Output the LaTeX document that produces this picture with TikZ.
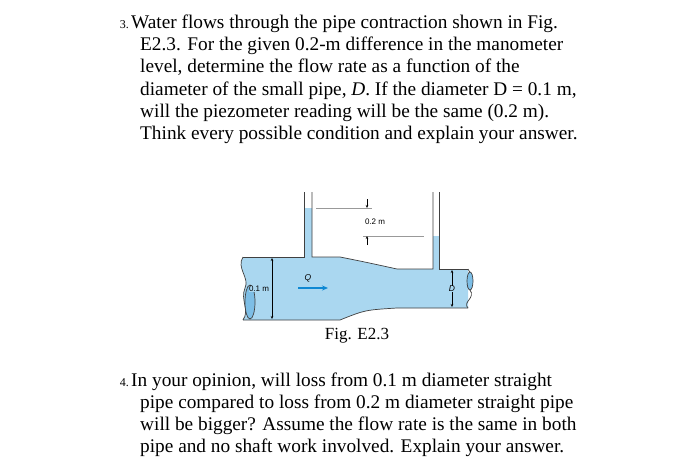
\documentclass[tikz,border=0pt]{standalone}
\usepackage{fontspec}
\setmainfont{Liberation Serif}
\newfontfamily\figsans{Liberation Sans}
\usetikzlibrary{arrows.meta}
\begin{document}
\begin{tikzpicture}[x=1pt,y=-1pt,
  txt/.style={anchor=base west,inner sep=0,font=\fontsize{19.3}{22}\selectfont},
  num/.style={anchor=base east,inner sep=0,font=\fontsize{12}{13}\selectfont},
  lbl/.style={inner sep=0.5pt,font=\figsans\fontsize{8}{9}\selectfont},
  dim/.style={-{Stealth[length=3pt,width=2.5pt]},line width=0.5pt},
  wall/.style={line width=0.7pt,draw=black!75}]
\useasboundingbox (0,0) rectangle (700,473);
\fill[white] (0,0) rectangle (700,473);
\node[num] (n3) at (129,29) {3.};
\node[txt] (l1) at (131,29) {Water flows through the pipe contraction shown in Fig.};
\node[txt] (l2) at (140,51) {E2.3. For the given 0.2-m difference in the manometer};
\node[txt] (l3) at (140,73) {level, determine the flow rate as a function of the};
\node[txt] (l4) at (140,96) {diameter of the small pipe, \textit{D}. If the diameter D = 0.1 m,};
\node[txt] (l5) at (140,118) {will the piezometer reading will be the same (0.2 m).};
\node[txt] (l6) at (140,140) {Think every possible condition and explain your answer.};
\node[num] (n4) at (129,386) {4.};
\node[txt] (m1) at (131,386) {In your opinion, will loss from 0.1 m diameter straight};
\node[txt] (m2) at (140,408) {pipe compared to loss from 0.2 m diameter straight pipe};
\node[txt] (m3) at (140,430) {will be bigger? Assume the flow rate is the same in both};
\node[txt] (m4) at (140,452) {pipe and no shaft work involved. Explain your answer.};
% water
\definecolor{wat}{RGB}{170,215,240}
\definecolor{watd}{RGB}{125,190,230}
\fill[wat] (243,257) -- (304,257) -- (304,208) -- (312,208) -- (312,257) -- (340,257)
  .. controls (365,262) .. (397,269) -- (433,269) -- (433,236) -- (439,236) -- (439,269)
  -- (468,269) -- (468,308) -- (397,308) .. controls (365,310) .. (340,320) -- (243,320)
  .. controls (250,310) and (240,300) .. (245,288) .. controls (250,278) and (236,268) .. (243,257);
\draw[wall] (243,257) -- (304,257) -- (304,192);
\draw[wall] (312,192) -- (312,257) -- (340,257) .. controls (365,262) .. (397,269) -- (433,269) -- (433,192);
\draw[wall] (439,192) -- (439,269) -- (468,269);
\draw[wall] (243,320) -- (340,320) .. controls (365,310) .. (397,308) -- (468,308);
\draw[wall] (243,257) .. controls (236,268) and (250,278) .. (245,288) .. controls (240,300) and (250,310) .. (243,320);
\draw[wall,fill=watd] (250,302) ellipse (5 and 17);
\draw[wall] (468,269) .. controls (475,278) and (462,282) .. (470,290) .. controls (476,298) and (462,302) .. (468,308);
\draw[wall,fill=watd] (470,281) ellipse (3 and 9);
% dimensions
\coordinate (a1) at (316,208); \coordinate (a2) at (372,208);
\coordinate (b1) at (363,236); \coordinate (b2) at (424,236);
\draw[black!40,line width=0.4pt] (a1) -- (a2);
\draw[black!40,line width=0.4pt] (b1) -- (b2);
\coordinate (u1) at (367,199); \coordinate (u2) at (367,245);
\draw[dim] (u1) -- (367,208);
\draw[dim] (u2) -- (367,236);
\node[lbl] (h) at (375,222) {0.2 m};
\coordinate (d1) at (272,258); \coordinate (d2) at (272,319);
\draw[dim,{Stealth[length=3pt,width=2.5pt]}-{Stealth[length=3pt,width=2.5pt]}] (d1) -- (d2);
\node[lbl,fill=wat] (dd) at (259,289) {0.1 m};
\coordinate (q1) at (298,288); \coordinate (q2) at (328,288);
\draw[-{Stealth[length=6pt,width=5pt]},line width=1.3pt,draw=cyan!70!blue] (q1) -- (q2);
\node[lbl,font=\figsans\itshape\fontsize{8.5}{9}\selectfont] (q) at (308,278) {Q};
\coordinate (e1) at (452,270); \coordinate (e2) at (452,307);
\draw[dim,{Stealth[length=3pt,width=2.5pt]}-{Stealth[length=3pt,width=2.5pt]}] (e1) -- (e2);
\node[lbl,fill=wat,font=\figsans\itshape\fontsize{8.5}{9}\selectfont] (dl) at (452,289) {D};
\node[anchor=base,inner sep=0,font=\fontsize{17}{18}\selectfont] (cap) at (357,339) {Fig. E2.3};
\end{tikzpicture}
\end{document}
